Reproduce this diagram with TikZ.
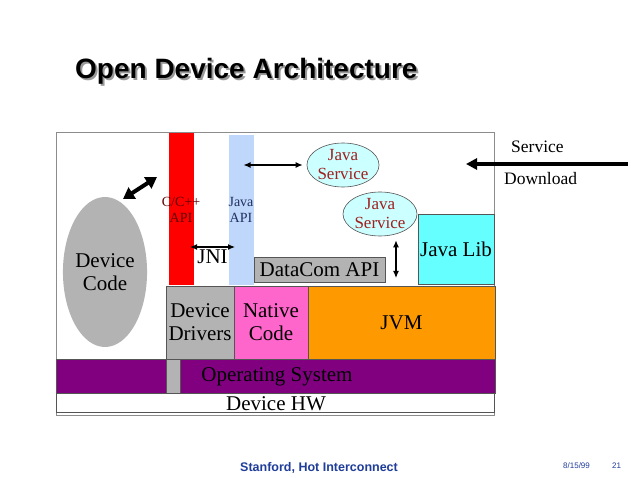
\documentclass[tikz,border=0pt]{standalone}
\usepackage{fontspec}
\setmainfont{Liberation Serif}
\newfontfamily\arialfont{Liberation Sans}
\usepackage{xcolor}
\usepackage{tikz}
\usetikzlibrary{arrows.meta,positioning,calc,shapes.geometric}
\definecolor{framegray}{HTML}{8C8C8C}
\definecolor{edgegray}{HTML}{555555}
\definecolor{blockgray}{HTML}{B3B3B3}
\definecolor{apired}{HTML}{FF0000}
\definecolor{apiblue}{HTML}{BFD7FA}
\definecolor{nativepink}{HTML}{FF66CC}
\definecolor{jvmorange}{HTML}{FF9900}
\definecolor{ospurple}{HTML}{800080}
\definecolor{ostext}{HTML}{000000}
\definecolor{libcyan}{HTML}{66FFFF}
\definecolor{svcfill}{HTML}{CCFFFF}
\definecolor{svcred}{HTML}{A02020}
\definecolor{cred}{HTML}{600000}
\definecolor{jnavy}{HTML}{1F2F5F}
\definecolor{footblue}{HTML}{1F3D99}
\newcommand{\shadowtitle}[1]{{\color{black!40}\rlap{\hspace{2pt}\raisebox{-2pt}{#1}}}#1}
\tikzset{
  layer/.style={draw=edgegray, line width=.5pt, inner sep=0pt, outer sep=0pt,
                align=center, font=\fontsize{21}{23}\selectfont},
  bar/.style={inner sep=0pt, outer sep=0pt, minimum width=25pt},
  svc/.style={ellipse, draw=edgegray, line width=.6pt, fill=svcfill,
              inner sep=0pt, align=center, text=svcred,
              font=\fontsize{17}{19}\selectfont},
  apilbl/.style={align=center, font=\fontsize{14}{16}\selectfont, inner sep=0pt},
  thinarr/.style={{Latex[length=7pt,width=6pt]}-{Latex[length=7pt,width=6pt]},
                  line width=1.2pt, draw=black},
  fatarr/.style={{Triangle[length=11pt,width=13pt]}-{Triangle[length=11pt,width=13pt]},
                 line width=4pt, draw=black},
  dlarr/.style={-{Triangle[length=11pt,width=11pt]}, line width=3.5pt, draw=black},
  txt/.style={inner sep=0pt, font=\fontsize{17.5}{20}\selectfont}
}
\begin{document}
\begin{tikzpicture}[x=1pt, y=-1pt]
  \useasboundingbox[fill=white] (0,0) rectangle (638,478);

  % title and footer
  \node[anchor=west, inner sep=0pt, font=\arialfont\bfseries\fontsize{28}{30}\selectfont]
    (title) at (75,72) {\shadowtitle{Open Device Architecture}};
  \node[anchor=west, inner sep=0pt, text=footblue, font=\arialfont\bfseries\fontsize{12.5}{14}\selectfont]
    (foot) at (240,468) {Stanford, Hot Interconnect};
  \node[anchor=west, inner sep=0pt, text=footblue, font=\arialfont\fontsize{8}{9}\selectfont]
    (date) at (563,466) {8/15/99};
  \node[anchor=west, inner sep=0pt, text=footblue, font=\arialfont\fontsize{8}{9}\selectfont]
    (page) at (612,466) {21};

  % device frame
  \draw[draw=framegray, line width=1pt] (56,133) rectangle (494,416);

  % hardware and OS layers
  \node[layer, fill=white, anchor=north west, minimum width=438pt, minimum height=19pt] (hw) at (56,393) {};
  \node[font=\fontsize{21}{23}\selectfont, inner sep=0pt] (hwlbl) at (276,404) {Device HW};
  \node[layer, fill=ospurple, anchor=north west, minimum width=439pt, minimum height=34pt] (os) at (56,359) {};
  \node[fill=blockgray, draw=edgegray, line width=.5pt, anchor=north west, inner sep=0pt,
        minimum width=14pt, minimum height=34pt] (strip) at (166,359) {};
  \node[text=ostext, font=\fontsize{21}{23}\selectfont, inner sep=0pt] (oslbl) at (277,377) {Operating System};

  % native layer
  \node[layer, fill=blockgray, anchor=north west, minimum width=68pt, minimum height=73pt] (drv) at (166,286)
    {Device\\Drivers};
  \node[layer, fill=nativepink, right=0pt of drv, minimum width=74pt, minimum height=73pt] (native)
    {Native\\Code};
  \node[layer, fill=jvmorange, right=0pt of native, minimum width=187pt, minimum height=73pt] (jvm)
    {JVM};

  % APIs
  \node[bar, fill=apired, anchor=north west, minimum height=152pt] (capi) at (169,133) {};
  \node[bar, fill=apiblue, anchor=north west, minimum height=150pt] (japi) at (229,135) {};
  \node[apilbl, text=cred] (capilbl) at (181,210) {C/C++\\API};
  \node[apilbl, text=jnavy] (japilbl) at (241,210) {Java\\API};
  \node[layer, fill=blockgray, anchor=north west, minimum width=131pt, minimum height=25pt] (dcom) at (254,257)
    {DataCom API};
  \node[layer, fill=libcyan, anchor=north west, minimum width=76pt, minimum height=70pt] (jlib) at (418,214)
    {Java Lib};

  % device code
  \node[ellipse, fill=blockgray, minimum width=84pt, minimum height=150pt, inner sep=0pt, align=center,
        font=\fontsize{21}{23}\selectfont] (dcode) at (105,272) {Device\\Code};

  % java services
  \node[svc, minimum width=69pt, minimum height=44pt] (jsv1) at (343,165) {Java\\Service};
  \node[svc, minimum width=74pt, minimum height=44pt] (jsv2) at (380,214) {Java\\Service};

  % connectors
  \coordinate (hwa) at (123,199);
  \coordinate (hwb) at (157,177);
  \draw[fatarr] (hwa) -- (hwb);
  \draw[thinarr] ([xshift=2pt]japi.center |- jsv1.west) -- ([xshift=-4pt]jsv1.west);
  \coordinate (jnia) at (190,247);
  \coordinate (jnib) at (235,247);
  \draw[thinarr] (jnia) -- node[below=2pt, font=\fontsize{21}{23}\selectfont, inner sep=0pt] (jni) {JNI} (jnib);
  \draw[thinarr] ([xshift=16pt, yshift=-4pt]jsv2.south) -- ([xshift=16pt, yshift=8pt]jsv2.south |- jvm.north);

  % service download
  \coordinate (dlsrc) at (628,164);
  \coordinate (dltgt) at (466,164);
  \draw[dlarr] (dlsrc) -- (dltgt);
  \node[txt, anchor=west] (svclbl) at (511,147) {Service};
  \node[txt, anchor=west] (dllbl) at (504,179) {Download};
\end{tikzpicture}
\end{document}
